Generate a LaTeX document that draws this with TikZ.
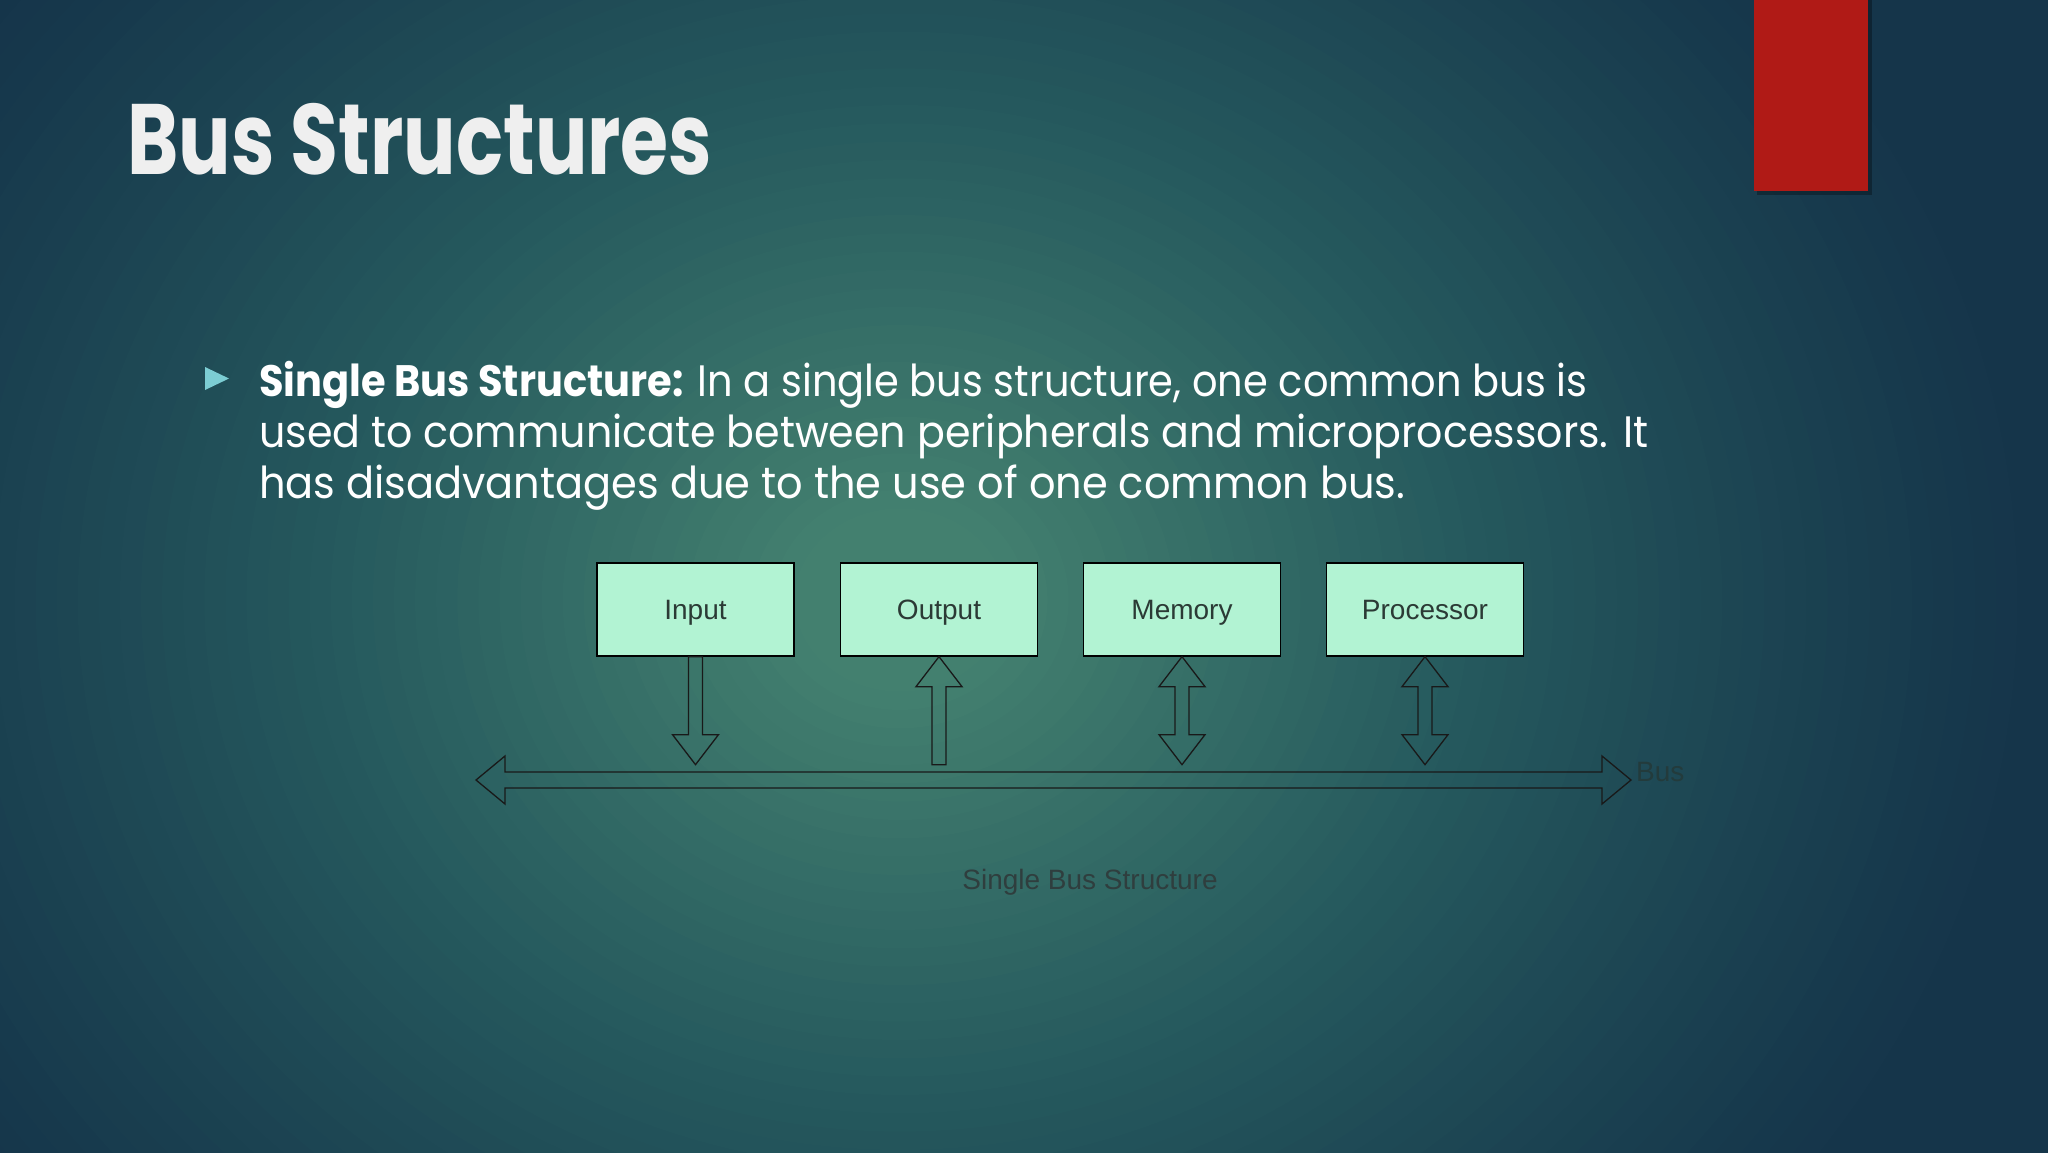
\documentclass[tikz,border=0pt]{standalone}
\usepackage{fontspec}
\usepackage{graphicx}
\setmainfont{Liberation Sans}
\newfontfamily\gothic{Poppins}
\usetikzlibrary{calc}
\definecolor{bgdark}{HTML}{15354A}
\definecolor{bgmid}{HTML}{265A5E}
\definecolor{bglight}{HTML}{43806F}
\definecolor{mint}{HTML}{B2F3D3}
\definecolor{labelc}{HTML}{2B3A35}
\definecolor{capc}{HTML}{2F3E3E}
\definecolor{buslblc}{HTML}{233B3C}
\definecolor{titlec}{HTML}{EFEFEF}
\definecolor{bulletc}{HTML}{7CCDD3}
\definecolor{redc}{HTML}{B01A16}
\tikzset{
  box/.style={draw=black, line width=1.3pt, fill=mint, minimum width=197pt, minimum height=93pt,
    inner sep=0pt, text height=26pt, text depth=6pt, font=\fontsize{28}{28}\selectfont, text=labelc},
  barrow/.style={draw=black!90, line width=1.3pt, line join=miter},
  bodyline/.style={anchor=base west, inner sep=0pt, text=white, font=\gothic\fontsize{44}{44}\selectfont}
}
\begin{document}
\begin{tikzpicture}[x=1pt, y=-1pt]
\useasboundingbox (0,0) rectangle (2048,1152);
\begin{scope}
  \clip (-2,-2) rectangle (2050,1154);
  \fill[bgdark] (-5,-5) rectangle (2053,1157);
  \foreach \i in {0,...,59}{
    \pgfmathsetmacro\t{1.1*(1-\i/60)}
    \pgfmathsetmacro\p{100*(min(1,max(0.001,(1-\t)/0.9)))^1.2}
    \ifdim\p pt<50pt
      \pgfmathsetmacro\q{2*\p}\colorlet{cc}{bgmid!\q!bgdark}
    \else
      \pgfmathsetmacro\q{2*\p-100}\colorlet{cc}{bglight!\q!bgmid}
    \fi
    \fill[cc] (900,600) ellipse [x radius=1150*\t, y radius=1000*\t];
  }
\end{scope}
% red tab
\fill[black, opacity=0.3] (1757,0) rectangle (1872,195);
\fill[redc] (1754,0) rectangle (1868,191);
% title
\node[anchor=base west, inner sep=0pt, text=titlec] (title) at (127,174)
  {\resizebox{585pt}{\height}{\gothic\bfseries\fontsize{100}{100}\selectfont Bus Structures}};
% bullet
\fill[bulletc] (205,367) -- (205,390) -- (229,378.5) -- cycle;
\node[bodyline] (l1) at (259,396) {\resizebox{1328pt}{\height}{\bfseries Single Bus Structure:\mdseries{} In a single bus structure, one common bus is}};
\node[bodyline] (l2) at (259,447) {\resizebox{1389pt}{\height}{used to communicate between peripherals and microprocessors. It}};
\node[bodyline] (l3) at (259,498) {\resizebox{1146pt}{\height}{has disadvantages due to the use of one common bus.}};
% boxes
\node[box] (in)   at (695.5,609.5) {Input};
\node[box] (out)  at (939,609.5)   {Output};
\node[box] (mem)  at (1182,609.5)  {Memory};
\node[box] (proc) at (1425,609.5)  {Processor};
% bus
\coordinate (busL) at (476,780);
\coordinate (busR) at (1631,780);
\draw[barrow] (busL) -- ++(29,-24) -- ++(0,16) -- ($(busR)+(-29,-8)$) -- ++(0,-16) -- (busR)
  -- ++(-29,24) -- ++(0,-16) -- ($(busL)+(29,8)$) -- ++(0,16) -- cycle;
\node[anchor=west, inner sep=0pt, text=buslblc, font=\fontsize{28}{28}\selectfont] (buslbl) at ($(busR)+(5,-8)$) {Bus};
% input: down arrow
\draw[barrow] (in.south) ++(-7,0) -- ++(0,78) -- ++(-16,0) -- ++(23,30) -- ++(23,-30) -- ++(-16,0) -- ++(0,-78) -- cycle;
% output: up arrow
\draw[barrow] (out.south) -- ++(23,30) -- ++(-16,0) -- ++(0,78) -- ++(-14,0) -- ++(0,-78) -- ++(-16,0) -- cycle;
% memory, processor: double arrows
\foreach \n in {mem,proc}{
  \draw[barrow] (\n.south) -- ++(23,30) -- ++(-16,0) -- ++(0,48) -- ++(16,0) -- ++(-23,30)
    -- ++(-23,-30) -- ++(16,0) -- ++(0,-48) -- ++(-16,0) -- cycle;
}
% caption
\node[text=capc, inner sep=0pt, font=\fontsize{28}{28}\selectfont] (cap) at (1090,882) {Single Bus Structure};
\end{tikzpicture}
\end{document}
